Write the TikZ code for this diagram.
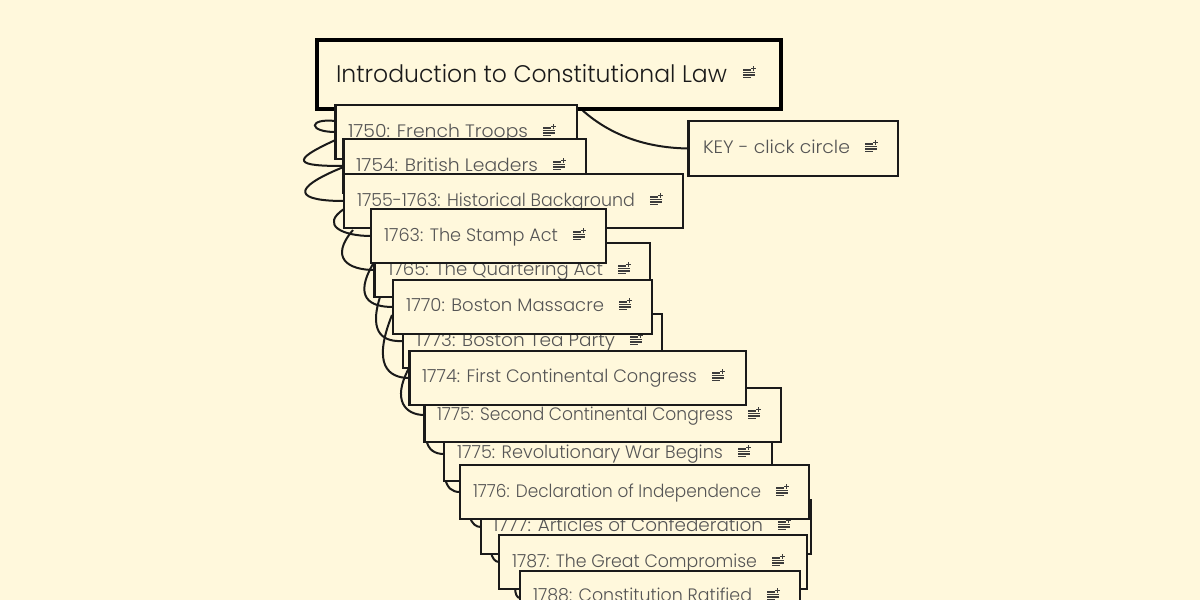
\documentclass[tikz,border=0pt]{standalone}
\usepackage{graphicx}
\usepackage{fontspec}
\setmainfont{Poppins}[UprightFont=* Light]
\definecolor{paper}{HTML}{FFF8DC}
\definecolor{ink}{HTML}{1A1A1A}
\definecolor{soft}{HTML}{555555}
\pgfdeclarelayer{paperlayer}
\pgfdeclarelayer{linklayer}
\pgfsetlayers{paperlayer,linklayer,main}
\tikzset{
  card/.style={draw=ink,fill=paper,line width=2.2pt,inner sep=0pt,outer sep=0pt},
  titlecard/.style={card,draw=black,line width=4pt},
  cardlabel/.style={anchor=base west,inner sep=0pt,outer sep=0pt,text=soft,font=\fontsize{18}{20}\selectfont},
  titlelabel/.style={cardlabel,text=ink,font=\fontsize{24}{26}\selectfont},
  link/.style={draw=ink,line width=2pt},
  iconline/.style={draw=soft!70!black,line width=1.4pt}
}
\newcommand{\fittext}[3]{\pgfmathsetmacro\fitw{#2-#1}\resizebox{\fitw pt}{\height}{#3}}
\newcommand{\listicon}[2]{%
  \draw[iconline] (#1,#2-3) -- ++(8,0) (#1,#2-0.5) -- ++(12,0) (#1,#2+2) -- ++(12,0) (#1,#2+4.5) -- ++(8,0)
    (#1+8.4,#2-4.5) -- ++(4.4,0) (#1+10.6,#2-6.7) -- ++(0,4.4);}
% name x0 y0 x1 y1 textx0 textx1 texty label
\newcommand{\cardbox}[9]{%
  \node[card,minimum width={(#4-#2)*1pt},minimum height={(#5-#3)*1pt}] (#1) at ({(#2+#4)/2},{(#3+#5)/2}) {};
  \node[cardlabel] (#1t) at (#6,#8+6.5) {\fittext{#6}{#7}{#9}};
  \listicon{#7+15}{#8}}
\begin{document}
\begin{tikzpicture}[x=1pt,y=-1pt]
\useasboundingbox (0,0) rectangle (1200,600);
\begin{pgfonlayer}{paperlayer}
\fill[paper] (0,0) rectangle (1200,600);
\end{pgfonlayer}
\clip (0,0) rectangle (1200,600);
\node[titlecard,minimum width=464pt,minimum height=69pt] (root) at (549,74.5) {};
\node[titlelabel] (roott) at (336,82) {\fittext{336}{727}{Introduction to Constitutional Law}};
\listicon{743}{73}
\cardbox{key}{688.5}{121}{898}{176}{703}{850}{147}{KEY - click circle}
\cardbox{a}{335.5}{105}{577}{159}{348}{528}{131}{1750: French Troops}
\cardbox{b}{343.5}{139}{586}{193}{356}{538}{165}{1754: British Leaders}
\cardbox{c}{344}{174}{683}{228}{357}{635}{200}{1755-1763: Historical Background}
\cardbox{e}{374.5}{243}{650}{297}{388}{603}{269}{1765: The Quartering Act}
\cardbox{d}{371}{209}{606}{263}{384}{558}{235}{1763: The Stamp Act}
\cardbox{j}{444}{427}{772}{481}{457}{723}{452}{1775: Revolutionary War Begins}
\cardbox{i}{424.5}{388}{781}{442}{437}{733}{414}{1775: Second Continental Congress}
\cardbox{g}{403}{314}{662}{368}{416}{615}{340}{1773: Boston Tea Party}
\cardbox{f}{393}{280}{652}{334}{406}{604}{305}{1770: Boston Massacre}
\cardbox{h}{409.5}{351}{746}{405}{422}{697}{376}{1774: First Continental Congress}
\cardbox{l}{481}{500}{811}{554}{493}{763}{525}{1777: Articles of Confederation}
\cardbox{k}{460}{465}{809}{519}{473}{761}{491}{1776: Declaration of Independence}
\cardbox{m}{499}{535}{807}{589}{512}{757}{561}{1787: The Great Compromise}
\cardbox{n}{520}{571}{800}{625}{533}{752}{595}{1788: Constitution Ratified}
\begin{pgfonlayer}{linklayer}
\draw[link] ([shift={(-200,0)}]root.south east) .. controls (615,140) and (655,148) .. (key.west);
\draw[link] ([shift={(0,-11)}]a.west) .. controls (308,118) and (308,132) .. (a.west);
\draw[link] ([shift={(0,8)}]a.west) .. controls (287,162) and (298,166) .. (b.west);
\draw[link] ([shift={(0,1)}]b.west) .. controls (287,190) and (298,201) .. (c.west);
\draw[link] ([shift={(0,8)}]c.west) .. controls (320,225) and (342,236) .. (d.west);
\draw[link] ([shift={(-18,-6)}]d.west) .. controls (329,258) and (348,270) .. (e.west);
\draw[link] ([shift={(-1,-7)}]e.west) .. controls (353,298) and (370,307) .. (f.west);
\draw[link] ([shift={(-13,-10)}]f.west) .. controls (368,335) and (385,342) .. (g.west);
\draw[link] ([shift={(-11,-26)}]g.west) .. controls (372,365) and (388,378) .. (h.west);
\draw[link] ([shift={(-1,-9)}]h.west) .. controls (392,400) and (405,415) .. (i.west);
\draw[link] ([shift={(2,25)}]i.west) .. controls (428,450) and (435,454) .. (j.west);
\draw[link] ([shift={(1,24)}]j.west) .. controls (447,488) and (452,492) .. (k.west);
\draw[link] ([shift={(10,25)}]k.west) .. controls (472,524) and (476,527) .. (l.west);
\draw[link] ([shift={(10,25)}]l.west) .. controls (492,558) and (495,562) .. (m.west);
\draw[link] ([shift={(16,25)}]m.west) .. controls (515,594) and (517,598) .. (n.west);
\end{pgfonlayer}
\end{tikzpicture}
\end{document}
